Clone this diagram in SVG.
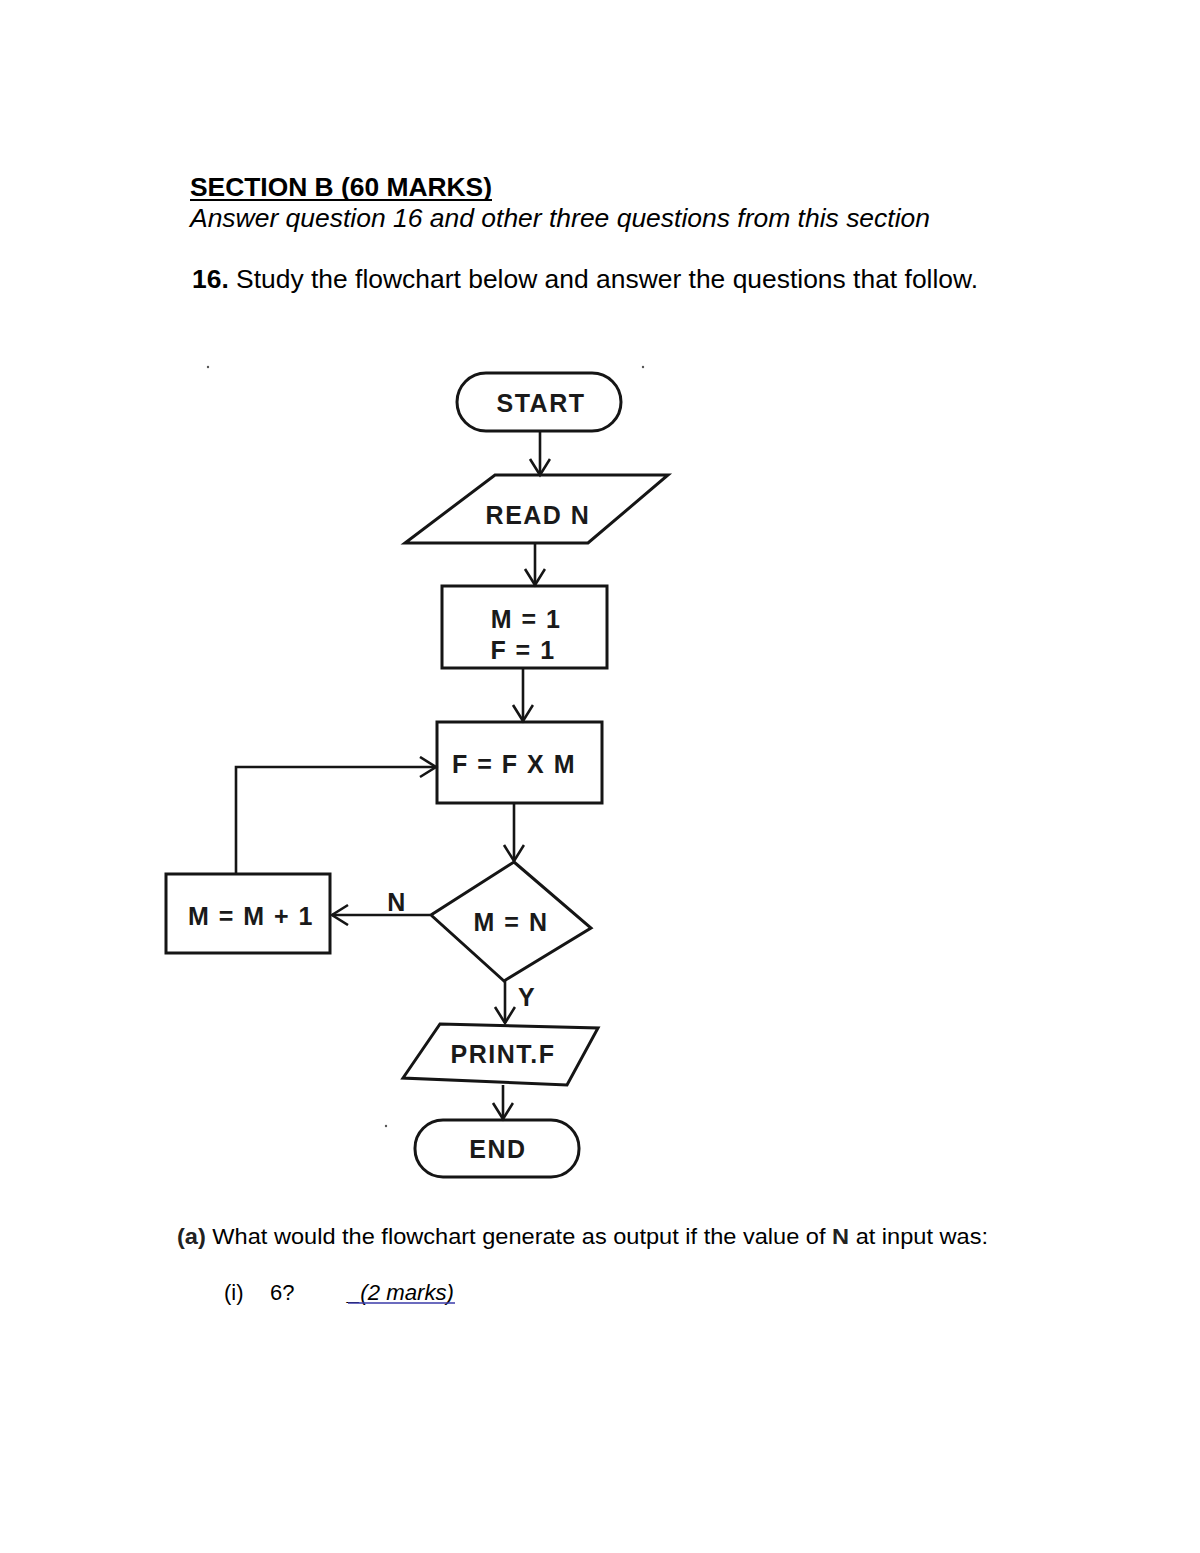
<svg xmlns="http://www.w3.org/2000/svg" width="1200" height="1553" viewBox="0 0 1200 1553">
<style>
.shape{fill:none;stroke:#151515;stroke-width:3;stroke-linejoin:miter}
.conn{fill:none;stroke:#151515;stroke-width:2.6}
.lbl{font-family:"Liberation Sans",Arial,sans-serif;font-size:25px;font-weight:bold;fill:#1a1a1a;text-anchor:middle;letter-spacing:1.5px}
.hd{font-family:"Liberation Sans",Arial,sans-serif;fill:#000}
</style>
<defs>
<marker id="arr" markerUnits="userSpaceOnUse" markerWidth="24" markerHeight="26" refX="17" refY="11" orient="auto">
<path d="M1,1 L17,11 L1,21" fill="none" stroke="#151515" stroke-width="2.6"/>
</marker>
</defs>
<rect width="1200" height="1553" fill="#fff"/>

<g id="header">
<text class="hd" x="190" y="196" font-size="25" font-weight="bold" textLength="302" lengthAdjust="spacingAndGlyphs">SECTION B (60 MARKS)</text>
<line x1="190" y1="200" x2="492" y2="200" stroke="#000" stroke-width="2"/>
<text class="hd" x="190" y="227" font-size="25" font-style="italic" textLength="740" lengthAdjust="spacingAndGlyphs">Answer question 16 and other three questions from this section</text>
<text class="hd" x="192" y="288" font-size="25" textLength="786" lengthAdjust="spacingAndGlyphs"><tspan font-weight="bold">16.</tspan> Study the flowchart below and answer the questions that follow.</text>
</g>

<g id="dots" fill="#555">
<circle cx="208" cy="367" r="1.2"/>
<circle cx="643" cy="367" r="1.2"/>
<circle cx="386" cy="1126" r="1.2"/>
</g>

<g id="connectors">
<line class="conn" x1="540" y1="432" x2="540" y2="475" marker-end="url(#arr)"/>
<line class="conn" x1="535" y1="544" x2="535" y2="585" marker-end="url(#arr)"/>
<line class="conn" x1="523" y1="668" x2="523" y2="721" marker-end="url(#arr)"/>
<line class="conn" x1="514" y1="804" x2="514" y2="861" marker-end="url(#arr)"/>
<line class="conn" x1="430" y1="915" x2="332" y2="915" marker-end="url(#arr)"/>
<polyline class="conn" points="236,873 236,767 436,767" marker-end="url(#arr)"/>
<line class="conn" x1="505" y1="981" x2="505" y2="1023" marker-end="url(#arr)"/>
<line class="conn" x1="503" y1="1085" x2="503" y2="1119" marker-end="url(#arr)"/>
<text class="lbl" x="397" y="911">N</text>
<text class="lbl" x="527" y="1006">Y</text>
</g>

<g id="start">
<rect class="shape" x="457" y="373" width="164" height="58" rx="29"/>
<text class="lbl" x="541" y="412">START</text>
</g>

<g id="read">
<polygon class="shape" points="495,475 668,475 588,543 405,543"/>
<text class="lbl" x="538" y="524">READ N</text>
</g>

<g id="init">
<rect class="shape" x="442" y="586" width="165" height="82"/>
<text class="lbl" x="526" y="628">M = 1</text>
<text class="lbl" x="523" y="659">F = 1</text>
</g>

<g id="mult">
<rect class="shape" x="437" y="722" width="165" height="81"/>
<text class="lbl" x="514" y="773">F = F X M</text>
</g>

<g id="decision">
<polygon class="shape" points="514,862 591,928 504,981 431,915"/>
<text class="lbl" x="511" y="931">M = N</text>
</g>

<g id="incr">
<rect class="shape" x="166" y="874" width="164" height="79"/>
<text class="lbl" x="251" y="925">M = M + 1</text>
</g>

<g id="print">
<polygon class="shape" points="440,1024 598,1028 567,1085 403,1078"/>
<text class="lbl" x="503" y="1063">PRINT.F</text>
</g>

<g id="end">
<rect class="shape" x="415" y="1120" width="164" height="57" rx="28"/>
<text class="lbl" x="498" y="1158">END</text>
</g>

<g id="question">
<text class="hd" x="177" y="1244" font-size="22" fill="#333" textLength="811" lengthAdjust="spacingAndGlyphs"><tspan font-weight="bold" fill="#222">(a)</tspan> What would the flowchart generate as output if the value of <tspan font-weight="bold" fill="#222">N</tspan> at input was:</text>
<text class="hd" x="224" y="1300" font-size="22" fill="#333">(i)</text>
<text class="hd" x="270" y="1300" font-size="22" fill="#333">6?</text>
<text class="hd" x="348" y="1300" font-size="22" font-style="italic" fill="#3a3aa8" textLength="106" lengthAdjust="spacingAndGlyphs">_(2 marks)</text>
<line x1="348" y1="1303" x2="455" y2="1303" stroke="#3a3aa8" stroke-width="1.5"/>
</g>
</svg>
